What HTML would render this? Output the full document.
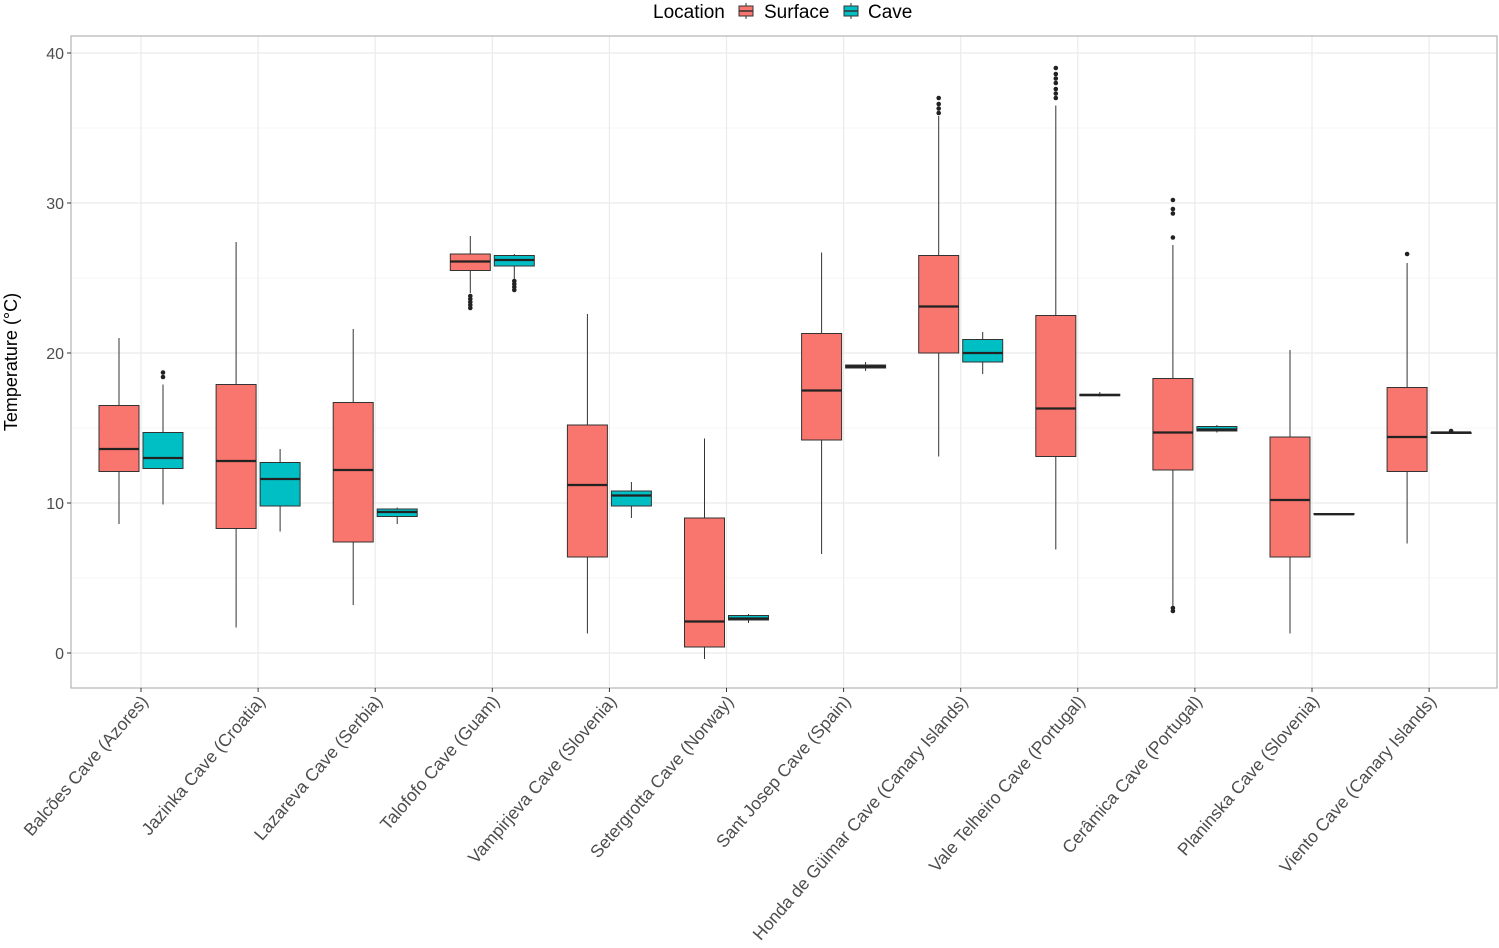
<!DOCTYPE html>
<html><head><meta charset="utf-8"><style>
body{margin:0;background:#fff;}
svg{display:block;font-family:"Liberation Sans",Arial,sans-serif;}
</style></head><body>
<svg id="chart" width="1499" height="948"></svg>
<script>
const categories=["Balcões Cave (Azores)","Jazinka Cave (Croatia)","Lazareva Cave (Serbia)","Talofofo Cave (Guam)","Vampirjeva Cave (Slovenia)","Setergrotta Cave (Norway)","Sant Josep Cave (Spain)","Honda de Güimar Cave (Canary Islands)","Vale Telheiro Cave (Portugal)","Cerâmica Cave (Portugal)","Planinska Cave (Slovenia)","Viento Cave (Canary Islands)"];
// [low, q1, median, q3, high]
const surfaceStats=[[8.6,12.1,13.6,16.5,21],[1.7,8.3,12.8,17.9,27.4],[3.2,7.4,12.2,16.7,21.6],[24,25.5,26.1,26.6,27.8],[1.3,6.4,11.2,15.2,22.6],[-0.4,0.4,2.1,9,14.3],[6.6,14.2,17.5,21.3,26.7],[13.1,20,23.1,26.5,35.8],[6.9,13.1,16.3,22.5,36.5],[3.1,12.2,14.7,18.3,27.2],[1.3,6.4,10.2,14.4,20.2],[7.3,12.1,14.4,17.7,26]];
const caveStats=[[9.9,12.3,13,14.7,17.9],[8.1,9.8,11.6,12.7,13.6],[8.6,9.1,9.4,9.6,9.7],[24.9,25.8,26.2,26.5,26.6],[9,9.8,10.5,10.8,11.4],[2,2.2,2.3,2.5,2.6],[18.8,19,19.1,19.2,19.4],[18.6,19.4,20,20.9,21.4],[17.1,17.15,17.2,17.25,17.4],[14.7,14.8,14.9,15.1,15.2],[9.2,9.25,9.25,9.3,9.3],[14.6,14.65,14.7,14.7,14.8]];
const surfaceOutliers=[[],[],[],[23,23.2,23.4,23.6,23.8],[],[],[],[36,36.3,36.6,37],[37,37.3,37.6,38,38.3,38.6,39],[2.8,3.0,27.7,29.3,29.6,30.2],[],[26.6]];
const caveOutliers=[[18.4,18.7],[],[],[24.2,24.4,24.6,24.8],[],[],[],[],[],[],[],[14.8]];
const yTicks=[0,10,20,30,40];
const NS="http://www.w3.org/2000/svg";
const svg=document.getElementById('chart');
const L=71,R=1497,T=36,B=688;
const y=v=>653-v*15;
const x=i=>141+i*117.1;
function mk(tag,attrs,parent){const e=document.createElementNS(NS,tag);for(const k in attrs)e.setAttribute(k,attrs[k]);(parent||svg).appendChild(e);return e;}
const grid=mk('g',{});


for(let v=-5;v<=45;v+=5){if(y(v)<T||y(v)>B)continue;mk('line',{x1:L,x2:R,y1:y(v),y2:y(v),stroke:'#ebebeb','stroke-width':v%10===0?1.2:0.6},grid);}
categories.forEach((c,i)=>mk('line',{x1:x(i),x2:x(i),y1:T,y2:B,stroke:'#ebebeb','stroke-width':1.2},grid));
function box(st,outs,cx,fill,name){
  const g=mk('g',{});
  
  
  const w=40;
  mk('line',{x1:cx,x2:cx,y1:y(st[4]),y2:y(st[3]),stroke:'#333','stroke-width':1},g);
  mk('line',{x1:cx,x2:cx,y1:y(st[1]),y2:y(st[0]),stroke:'#333','stroke-width':1},g);
  mk('rect',{x:cx-w/2,y:y(st[3]),width:w,height:Math.max(y(st[1])-y(st[3]),1),fill:fill,stroke:'#333','stroke-width':1},g);
  mk('line',{x1:cx-w/2,x2:cx+w/2,y1:y(st[2]),y2:y(st[2]),stroke:'#222','stroke-width':2.2},g);
  outs.forEach(o=>mk('circle',{cx:cx,cy:y(o),r:2.3,fill:'#222'},g));
}
categories.forEach((c,i)=>{
  box(surfaceStats[i],surfaceOutliers[i],x(i)-22,'#f8766d','surface-box-'+i);
  box(caveStats[i],caveOutliers[i],x(i)+22,'#00bfc4','cave-box-'+i);
});
const frame=mk('rect',{x:L,y:T,width:R-L,height:B-T,fill:'none',stroke:'#b3b3b3','stroke-width':1.2});


yTicks.forEach(v=>{
  mk('line',{x1:L-4,x2:L,y1:y(v),y2:y(v),stroke:'#333'});
  const t=mk('text',{x:L-7,y:y(v)+6,'text-anchor':'end','font-size':16,fill:'#4d4d4d'});
  
  
  t.textContent=v;
});
categories.forEach((c,i)=>{
  mk('line',{x1:x(i),x2:x(i),y1:B,y2:B+4,stroke:'#333'});
  const t=mk('text',{transform:`translate(${x(i)+8},${B+14}) rotate(-49)`,'text-anchor':'end','font-size':17.5,fill:'#4d4d4d'});
  
  
  t.textContent=c;
});
const yt=mk('text',{transform:'translate(17,362) rotate(-90)','text-anchor':'middle','font-size':18,fill:'#000'});


yt.textContent='Temperature (°C)';
const lg=mk('g',{});


const lt=mk('text',{x:653,y:18,'font-size':19,fill:'#000'},lg);lt.textContent='Location';
[[738,'#f8766d','Surface',764],[843,'#00bfc4','Cave',868]].forEach(([kx,f,lab,tx])=>{
  const e=mk('g',{},lg);
  
  
  mk('line',{x1:kx+8,x2:kx+8,y1:3,y2:19,stroke:'#333'},e);
  mk('rect',{x:kx+1,y:6,width:14,height:10,fill:f,stroke:'#333'},e);
  mk('line',{x1:kx+1,x2:kx+15,y1:11,y2:11,stroke:'#333','stroke-width':1.5},e);
  const tt=mk('text',{x:tx,y:18,'font-size':19,fill:'#000'},e);tt.textContent=lab;
});
</script>
</body></html>
